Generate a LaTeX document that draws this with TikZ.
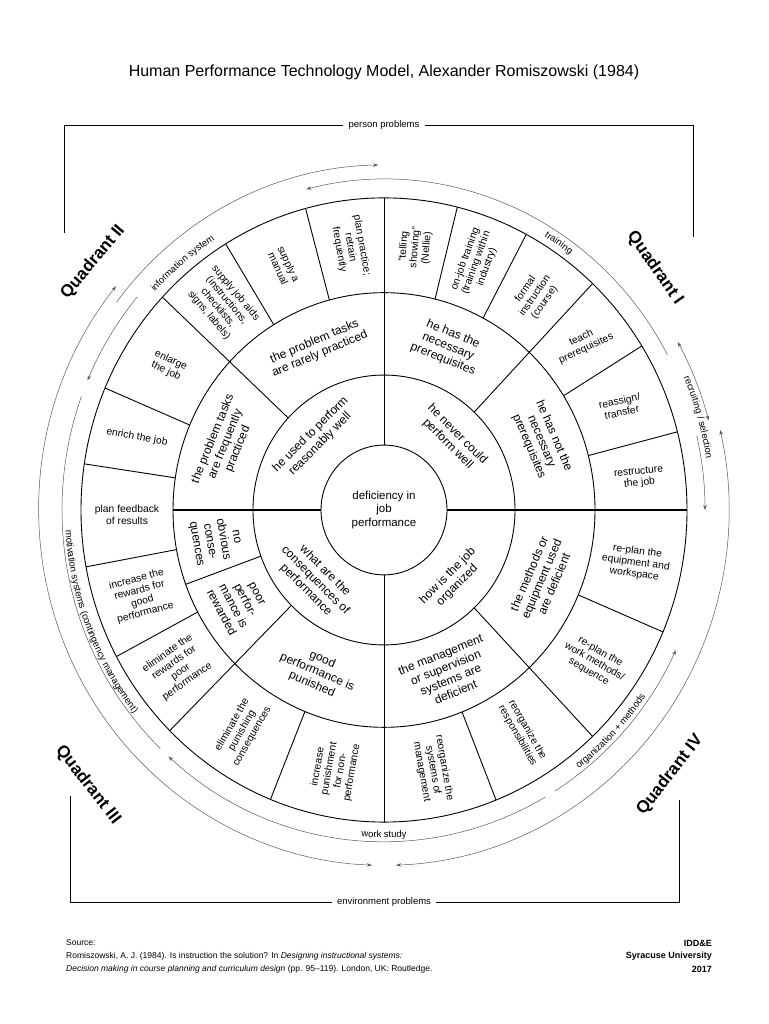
\documentclass[tikz,border=0pt]{standalone}
\usepackage{fontspec}
\setmainfont{Liberation Sans}
\usetikzlibrary{arrows.meta,decorations.text}
\begin{document}
\begin{tikzpicture}[x=1pt,y=1pt,
 wl/.style={line width=0.9pt},
 o/.style={align=center,font=\fontsize{10.3}{11.5}\selectfont,inner sep=0pt},
 m/.style={align=center,font=\fontsize{12}{13.5}\selectfont,inner sep=0pt},
 arl/.style={draw=black!65,line width=0.5pt},
 arr/.style={arl,-{Stealth[length=5pt,width=3.5pt]}},
 arrb/.style={arl,{Stealth[length=5pt,width=3.5pt]}-{Stealth[length=5pt,width=3.5pt]}},
 quad/.style={font=\bfseries\fontsize{17}{17}\selectfont,inner sep=0pt},
 brk/.style={line width=0.7pt},
 lbl/.style={font=\fontsize{9.5}{10}\selectfont,inner sep=5pt},
 foot/.style={font=\fontsize{8.5}{10}\selectfont,inner sep=0pt}
 ]
\useasboundingbox (0,0) rectangle (768,1024);
\fill[white] (0,0) rectangle (768,1024);

\node[font=\fontsize{16}{18}\selectfont] (title) at (384,952) {Human Performance Technology Model, Alexander Romiszowski (1984)};

% brackets
\node[lbl] (pp) at (384,899) {person problems};
\coordinate (tl1) at (64,899); \coordinate (tl2) at (64,791);
\coordinate (tr1) at (693,899); \coordinate (tr2) at (693,787);
\draw[brk] (pp.west) -- (tl1) -- (tl2);
\draw[brk] (pp.east) -- (tr1) -- (tr2);
\node[lbl] (ep) at (384,122) {environment problems};
\coordinate (bl1) at (70,122); \coordinate (bl2) at (70,228);
\coordinate (br1) at (679,122); \coordinate (br2) at (679,224);
\draw[brk] (ep.west) -- (bl1) -- (bl2);
\draw[brk] (ep.east) -- (br1) -- (br2);

\node[quad,rotate=-55] (q1) at (655,756) {Quadrant I};
\node[quad,rotate=50] (q2) at (93,762) {Quadrant II};
\node[quad,rotate=-52] (q3) at (88,239) {Quadrant III};
\node[quad,rotate=52] (q4) at (670,249) {Quadrant IV};

\begin{scope}[shift={(384,514)},yscale=1.03]
 % rings
 \draw[wl] (0,0) circle[radius=63];
 \draw[wl] (0,0) circle[radius=131];
 \draw[wl] (0,0) circle[radius=211];
 \draw[wl] (0,0) circle[radius=303];
 % main dividers
 \draw[wl] (90:63) -- (90:303);
 \draw[wl] (270:63) -- (270:303);
 \draw[line width=1.4pt] (0:63) -- (0:303);
 \draw[line width=1.4pt] (180:63) -- (180:211);
 \foreach \a in {137,46.5,225,313.5} \draw[wl] (\a:131) -- (\a:303);
 \draw[wl] (200:131) -- (200:211);
 \foreach \a in {105,121.5,157,171.5,190.5,208,248,291.7,337,14.5,31.7,62,76}
   \draw[wl] (\a:211) -- (\a:303);

 % outer ring labels
 \node[o,rotate=-80] (a1) at (97.5:257) {plan practice;\\retrain\\frequently};
 \node[o,rotate=-65] (a2) at (113:257) {supply a\\manual};
 \node[o,rotate=-50] (a3) at (129:257) {supply job aids\\(instructions,\\checklists,\\signs, labels)};
 \node[o,rotate=-25] (a4) at (147:257) {enlarge\\the job};
 \node[o,rotate=-10] (a5) at (164:257) {enrich the job};
 \node[o] (a6) at (181:257) {plan feedback\\of results};
 \node[o,rotate=15] (a7) at (199:257) {increase the\\rewards for\\good\\performance};
 \node[o,rotate=35] (a8) at (216.5:257) {eliminate the\\rewards for\\poor\\performance};
 \node[o,rotate=60] (a9) at (236.5:257) {eliminate the\\punishing\\consequences};
 \node[o,rotate=80] (a10) at (259:257) {increase\\punishment\\for non-\\performance};
 \node[o,rotate=-80] (a11) at (281:257) {reorganize the\\systems of\\management};
 \node[o,rotate=-60] (a12) at (302.6:257) {reorganize the\\responsibilities};
 \node[o,rotate=-30] (a13) at (325:257) {re-plan the\\work methods/\\sequence};
 \node[o,rotate=-8] (a14) at (348.5:257) {re-plan the\\equipment and\\workspace};
 \node[o,rotate=5] (a15) at (7:257) {restructure\\the job};
 \node[o,rotate=12] (a16) at (23:257) {reassign/\\transfer};
 \node[o,rotate=25] (a17) at (39:257) {teach\\prerequisites};
 \node[o,rotate=55] (a18) at (54:257) {formal\\instruction\\(course)};
 \node[o,rotate=70] (a19) at (69:257) {on-job training\\(training within\\industry)};
 \node[o,rotate=85] (a20) at (83:257) {“telling\\showing”\\(Nellie)};

 % middle ring
 \node[m,rotate=23] (b1) at (113:171) {the problem tasks\\are rarely practiced};
 \node[m,rotate=68] (b2) at (158:171) {the problem tasks\\are frequently\\practiced};
 \node[m,rotate=-22] (b3) at (68:171) {he has the\\necessary\\prerequisites};
 \node[m,rotate=-67] (b4) at (23:171) {he has not the\\necessary\\prerequisites};
 \node[m,rotate=-80] (b5) at (190:171) {no\\obvious\\conse-\\quences};
 \node[m,rotate=-62] (b6) at (212:171) {poor\\perfor-\\mance is\\rewarded};
 \node[m,rotate=-23] (b7) at (247:171) {good\\performance is\\punished};
 \node[m,rotate=22] (b8) at (292:171) {the management\\or supervision\\systems are\\deficient};
 \node[m,rotate=67] (b9) at (337:171) {the methods or\\equipment used\\are deficient};

 % inner ring
 \node[m,rotate=45] (c1) at (135:97) {he used to perform\\reasonably well};
 \node[m,rotate=-45] (c2) at (45:97) {he never could\\perform well};
 \node[m,rotate=-45] (c3) at (225:97) {what are the\\consequences of\\performance};
 \node[m,rotate=45] (c4) at (315:97) {how is the job\\organized};
 \node[m,font=\fontsize{11.5}{13.5}\selectfont] (ctr) at (0,0) {deficiency in\\job\\performance};

 % arcs with arrows
 \draw[arr] (143:335) arc[start angle=143,end angle=91,radius=335];
 \draw[arr] (28:321) arc[start angle=28,end angle=104,radius=321];
 \draw[arrb] (29:336) arc[start angle=29,end angle=15,radius=336];
 \draw[arr] (13:321) arc[start angle=13,end angle=0,radius=321];
 \draw[arrb] (141:345) arc[start angle=141,end angle=268,radius=345];
 \draw[arrb] (272:345) arc[start angle=272,end angle=373,radius=345];
 \draw[arr] (140:322) arc[start angle=140,end angle=157,radius=322];
 \draw[arl] (160:322) arc[start angle=160,end angle=226,radius=322];
 \draw[arr] (300:322) arc[start angle=300,end angle=228,radius=322];
 \draw[arr] (302:322) arc[start angle=302,end angle=335,radius=322];

 % arc labels
 \path[decorate,decoration={text along path,text align=center,
   text={|\fontsize{9.5}{9}\selectfont|information system}}]
   (145:312) arc[start angle=145,end angle=115,radius=312];
 \path[decorate,decoration={text along path,text align=center,
   text={|\fontsize{9.5}{9}\selectfont|training}}]
   (62:310) arc[start angle=62,end angle=50,radius=310];
 \path[decorate,decoration={text along path,text align=center,
   text={|\fontsize{9.5}{9}\selectfont|recruiting / selection}}]
   (30:326) arc[start angle=30,end angle=2,radius=326];
 \path[decorate,decoration={text along path,text align=center,
   text={|\fontsize{9.5}{9}\selectfont|motivation systems (contingency management)}}]
   (170:319) arc[start angle=170,end angle=232,radius=319];
 \path[decorate,decoration={text along path,text align=center,
   text={|\fontsize{9.5}{9}\selectfont|work study}}]
   (262:318) arc[start angle=262,end angle=278,radius=318];
 \path[decorate,decoration={text along path,text align=center,
   text={|\fontsize{9.5}{9}\selectfont|organization + methods}}]
   (300:318) arc[start angle=300,end angle=333,radius=318];
\end{scope}

% footer
\node[foot,anchor=west] (s1) at (66,81) {Source:};
\node[foot,anchor=west] (s2) at (66,68) {Romiszowski, A. J. (1984). Is instruction the solution? In \textit{Designing instructional systems:}};
\node[foot,anchor=west] (s3) at (66,55) {\textit{Decision making in course planning and curriculum design} (pp. 95–119). London, UK: Routledge.};
\node[foot,anchor=east,font=\bfseries\fontsize{9}{10}\selectfont] (r1) at (712,81) {IDD\&E};
\node[foot,anchor=east,font=\bfseries\fontsize{9}{10}\selectfont] (r2) at (712,68) {Syracuse University};
\node[foot,anchor=east,font=\bfseries\fontsize{9}{10}\selectfont] (r3) at (712,55) {2017};
\end{tikzpicture}
\end{document}
